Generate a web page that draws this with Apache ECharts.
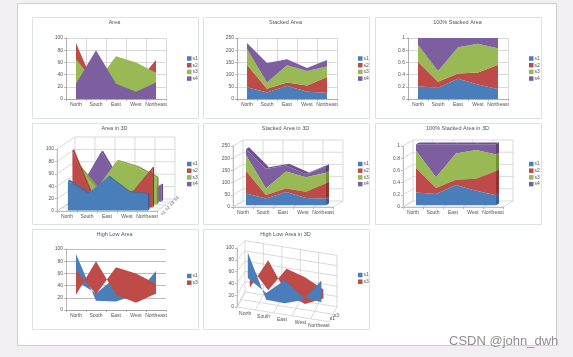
<!DOCTYPE html>
<html>
<head>
<meta charset="utf-8">
<title>Area charts</title>
<script src="https://cdn.jsdelivr.net/npm/echarts@6/dist/echarts.min.js"></script>
<style>
  html, body { margin: 0; padding: 0; background: #f1eff1; }
  #chart { width: 573px; height: 357px; filter: blur(0.4px); }
  .mark {
    position: absolute; left: 449px; top: 333px;
    font: 13px "Liberation Sans", sans-serif; color: #8f8f8f; white-space: nowrap;
  }
</style>
</head>
<body>
<div id="chart"></div>
<div class="mark">CSDN @john_dwh</div>
<script>
const categories = ['North', 'South', 'East', 'West', 'Northeast'];
const s1 = [48, 27, 54, 30, 26];
const s2 = [92, 15, 14, 25, 64];
const s3 = [65, 26, 70, 60, 43];
const s4 = [25, 80, 25, 12, 27];
const names = ['s1', 's2', 's3', 's4'];
const areaTicks = [0, 20, 40, 60, 80, 100];
const stackTicks = [0, 50, 100, 150, 200, 250];
const shareTicks = [0, 0.2, 0.4, 0.6, 0.8, 1];

const all = [s1, s2, s3, s4];
const colors = ['#4a7ebb', '#be4b48', '#98b954', '#7d5fa0'];
const mids = ['#3f6eaa', '#a7403e', '#85a547', '#6c5190'];
const darks = ['#35609a', '#8f3432', '#72903a', '#5b4279'];
const TEXT = '#555';
const WALL = '#cacaca';

// running totals, used by the stacked charts in 3D
function cumulate(idx) {
  return categories.map((c, i) => all.slice(0, idx + 1).reduce((t, s) => t + s[i], 0));
}
function shareOf(arr) {
  return arr.map((v, i) => v / all.reduce((t, s) => t + s[i], 0));
}
const zeros = categories.map(() => 0);

const option = {
  animation: false,
  backgroundColor: '#f1eff1',
  title: [], legend: [], grid: [], xAxis: [], yAxis: [], series: [],
  graphic: [
    { type: 'rect', z: -2, silent: true, shape: { x: 17.5, y: 3.5, width: 539, height: 342 },
      style: { fill: '#fff', stroke: '#cfcfcf', lineWidth: 1 } }
  ]
};

function addPanel(idx, box, titleText, plot, legendAt, ticks, legendItems, opts) {
  opts = opts || {};
  option.graphic.push({
    type: 'rect', z: -1, silent: true,
    shape: { x: box[0] + 0.5, y: box[1] + 0.5, width: box[2] - box[0], height: box[3] - box[1] },
    style: { fill: '#fff', stroke: '#dde2e6', lineWidth: 1 }
  });
  option.title.push({
    text: titleText, left: (box[0] + box[2]) / 2 - 0.5, top: box[1] + 2.5, textAlign: 'center', padding: 0,
    textStyle: { fontSize: 5.5, fontWeight: 'normal', color: TEXT, fontFamily: 'Liberation Sans' }
  });
  option.legend.push({
    orient: 'vertical', left: legendAt[0], top: legendAt[1], padding: 0, itemGap: 1.7,
    itemWidth: 4.5, itemHeight: 4.5, icon: 'rect', selectedMode: false,
    textStyle: { fontSize: 5, color: TEXT, padding: [0, 0, 0, -4], fontFamily: 'Liberation Sans' },
    data: legendItems.map(k => ({ name: names[k], itemStyle: { color: colors[opts.legendColors ? opts.legendColors[k] : k] } }))
  });
  option.grid.push({ left: plot[0], top: plot[1], width: plot[2], height: plot[3], containLabel: false });
  option.xAxis.push({
    type: 'category', gridIndex: idx, data: categories, boundaryGap: true,
    axisLine: { show: !opts.hideX, lineStyle: { color: '#999', width: 0.7 } },
    axisTick: { show: !opts.hideX, length: 2, alignWithLabel: false, lineStyle: { color: '#999', width: 0.7 } },
    axisLabel: { show: !opts.hideX, fontSize: 5, color: TEXT, margin: 3, interval: 0, fontFamily: 'Liberation Sans' },
    splitLine: { show: !!opts.vLines, lineStyle: { color: '#cfcfcf', width: 0.8 } }
  });
  option.yAxis.push({
    type: 'value', gridIndex: idx, min: 0, max: ticks[ticks.length - 1], interval: ticks[1],
    axisLine: { show: true, lineStyle: { color: '#999', width: 0.7 } },
    axisTick: { show: true, length: 2, lineStyle: { color: '#999', width: 0.7 } },
    axisLabel: { fontSize: 5, color: TEXT, margin: 3, fontFamily: 'Liberation Sans' },
    splitLine: { show: !opts.noHLines, lineStyle: { color: opts.hColor || '#cfcfcf', width: opts.hWidth || 0.8 } }
  });
}

// flat area series, native line + areaStyle
function addArea(idx, k, values, stacked) {
  option.series.push({
    name: names[k], type: 'line', xAxisIndex: idx, yAxisIndex: idx, data: values,
    stack: stacked ? 'p' + idx : undefined, symbol: 'none', silent: true,
    lineStyle: { width: 0 }, itemStyle: { color: colors[k] }, areaStyle: { color: colors[k], opacity: 1 }
  });
}

// maps a data point at depth d (0 front, 1 back wall) to a screen point
function projector(api, view) {
  const band = api.coord([1, 0])[0] - api.coord([0, 0])[0];
  const x0 = api.coord([0, 0])[0];
  const base = api.coord([0, 0])[1];
  return function (i, v, d) {
    const x = x0 + i * band;
    const h = base - api.coord([0, v])[1];
    return [
      x + view.dx * d,
      base - h * (1 - view.shrink * d) + view.skew * (x - (x0 - band / 2)) + view.dy * d
    ];
  };
}

// polygon between two value rows, extruded from d1 to d2; topStrip draws the upper face
function addBand(idx, k, lo, hi, view, d1, d2, colorKey, topStrip) {
  const ck = colorKey === undefined ? k : colorKey;
  option.series.push({
    name: names[k], type: 'custom', xAxisIndex: idx, yAxisIndex: idx, silent: true,
    itemStyle: { color: colors[ck] }, data: [[0, 0]], encode: { x: 0, y: 1 },
    renderItem: function (params, api) {
      const p = projector(api, view);
      const kids = [];
      if (d2 > d1) {
        if (topStrip) {
          for (let i = 0; i < hi.length - 1; i++) {
            kids.push({ type: 'polygon', shape: { points: [p(i, hi[i], d1), p(i + 1, hi[i + 1], d1), p(i + 1, hi[i + 1], d2), p(i, hi[i], d2)] },
              style: { fill: mids[ck] } });
          }
        }
        const last = hi.length - 1;
        kids.push({ type: 'polygon', shape: { points: [p(last, lo[last], d1), p(last, hi[last], d1), p(last, hi[last], d2), p(last, lo[last], d2)] },
          style: { fill: darks[ck] } });
      }
      const pts = hi.map((v, i) => p(i, v, d1));
      for (let i = lo.length - 1; i >= 0; i--) pts.push(p(i, lo[i], d1));
      kids.push({ type: 'polygon', shape: { points: pts }, style: { fill: colors[ck] } });
      return { type: 'group', children: kids };
    }
  });
}

// back wall, left wall and floor of the 3D boxes
function addWalls(idx, ticks, view, floorRows) {
  option.series.push({
    type: 'custom', xAxisIndex: idx, yAxisIndex: idx, silent: true, z: 1,
    data: [[0, 0]], encode: { x: 0, y: 1 },
    renderItem: function (params, api) {
      const p = projector(api, view);
      const kids = [];
      const line = pts => kids.push({ type: 'polyline', shape: { points: pts }, style: { stroke: WALL, lineWidth: 0.7, fill: null } });
      const top = ticks[ticks.length - 1];
      ticks.forEach(t => {
        line([p(-0.5, t, 0), p(-0.5, t, 1), p(4.5, t, 1)]);
      });
      for (let i = -0.5; i <= 4.5; i++) {
        line([p(i, 0, 0), p(i, 0, 1), p(i, top, 1)]);
      }
      line([p(-0.5, 0, 0), p(4.5, 0, 0)]);
      line([p(-0.5, 0, 0), p(-0.5, top, 0)]);
      floorRows.forEach(d => line([p(-0.5, 0, d), p(4.5, 0, d)]));
      return { type: 'group', children: kids };
    }
  });
}

// text placed by the projection: depth labels, and category labels on the skewed floor
function addLabels(idx, view, items) {
  option.series.push({
    type: 'custom', xAxisIndex: idx, yAxisIndex: idx, silent: true, z: 5,
    data: [[0, 0]], encode: { x: 0, y: 1 },
    renderItem: function (params, api) {
      const p = projector(api, view);
      return {
        type: 'group',
        children: items.map(it => {
          const q = p(it.i, 0, it.d);
          return {
            type: 'text', x: q[0] + it.ox, y: q[1] + it.oy, rotation: it.rot || 0,
            style: { text: it.text, fontSize: it.size || 5, fill: TEXT, align: 'center', verticalAlign: 'middle', fontFamily: 'Liberation Sans' }
          };
        })
      };
    }
  });
}

const allFour = [0, 1, 2, 3];

// Area
addPanel(0, [32, 17, 198, 118], 'Area', [66, 38, 100, 61], [187, 56], areaTicks, allFour, { vLines: true });
all.forEach((s, k) => addArea(0, k, s, false));

// Stacked Area
addPanel(1, [203, 17, 369, 118], 'Stacked Area', [237, 38, 100, 61], [358, 56], stackTicks, allFour, { vLines: true });
all.forEach((s, k) => addArea(1, k, s, true));

// 100% Stacked Area
addPanel(2, [375, 17, 541, 118], '100% Stacked Area', [408, 38, 100, 61], [529, 56], shareTicks, allFour, { vLines: true });
all.forEach((s, k) => addArea(2, k, shareOf(s), true));

// Area in 3D, one row per series
const view3 = { dx: 18, dy: -12, skew: 0, shrink: 0 };
addPanel(3, [32, 123, 198, 224], 'Area in 3D', [57, 149, 100, 62], [187, 161.5], areaTicks, allFour, { noHLines: true });
addWalls(3, areaTicks, view3, [0.25, 0.5, 0.75]);
[3, 2, 1, 0].forEach(k => addBand(3, k, zeros, all[k], view3, 0.05 + k * 0.25, 0.14 + k * 0.25, k, true));
addLabels(3, view3, allFour.map(k => ({ i: 4.5, d: 0.12 + k * 0.25, ox: 4, oy: 3.5 - k * 1.8, rot: Math.PI / 4, size: 4.5, text: names[k] })));

// Stacked Area in 3D
const viewBox = { dx: 10, dy: -6, skew: 0, shrink: 0 };
addPanel(4, [203, 123, 369, 224], 'Stacked Area in 3D', [233, 146, 100, 61], [358, 161.5], stackTicks, allFour, { noHLines: true });
addWalls(4, stackTicks, viewBox, []);
[3, 2, 1, 0].forEach(k => addBand(4, k, k ? cumulate(k - 1) : zeros, cumulate(k), viewBox, 0.3, 0.6, k, k === 3));

// 100% Stacked Area in 3D
addPanel(5, [375, 123, 541, 224], '100% Stacked Area in 3D', [403, 146, 100, 61], [529, 161.5], shareTicks, allFour, { noHLines: true });
addWalls(5, shareTicks, viewBox, []);
[3, 2, 1, 0].forEach(k => addBand(5, k, k ? shareOf(cumulate(k - 1)) : zeros, shareOf(cumulate(k)), viewBox, 0.3, 0.6, k, k === 3));

// High Low Area: s1 from s1 to s2, s3 from s3 to s4
const flat = { dx: 0, dy: 0, skew: 0, shrink: 0 };
addPanel(6, [32, 229, 198, 329], 'High Low Area', [66, 249, 100, 61], [187, 273.5], areaTicks, [0, 2],
  { legendColors: { 0: 0, 2: 1 }, hColor: '#bdbdbd', hWidth: 1 });
addBand(6, 0, s1, s2, flat, 0, 0, 0);
addBand(6, 2, s3, s4, flat, 0, 0, 1);

// High Low Area in 3D, seen from the side
const viewSkew = { dx: 8, dy: -15, skew: 0.16, shrink: 0.13 };
addPanel(7, [203, 229, 369, 329], 'High Low Area in 3D', [237, 248, 92, 59], [358, 272.5], areaTicks, [0, 2],
  { legendColors: { 0: 0, 2: 1 }, noHLines: true, hideX: true });
addWalls(7, areaTicks, viewSkew, [0.5]);
addBand(7, 2, s3, s4, viewSkew, 0.45, 0.45, 1);
addBand(7, 0, s1, s2, viewSkew, 0.2, 0.2, 0);
addLabels(7, viewSkew, categories.map((c, i) => ({ i: i, d: 0, ox: -1, oy: 5, text: c })).concat([
  { i: 4.5, d: 0.05, ox: 3, oy: -2, text: 's1' },
  { i: 4.5, d: 0.55, ox: 3, oy: 2, text: 's3' }
]));

echarts.init(document.getElementById('chart'), null, { renderer: 'canvas' }).setOption(option);
</script>
</body>
</html>
